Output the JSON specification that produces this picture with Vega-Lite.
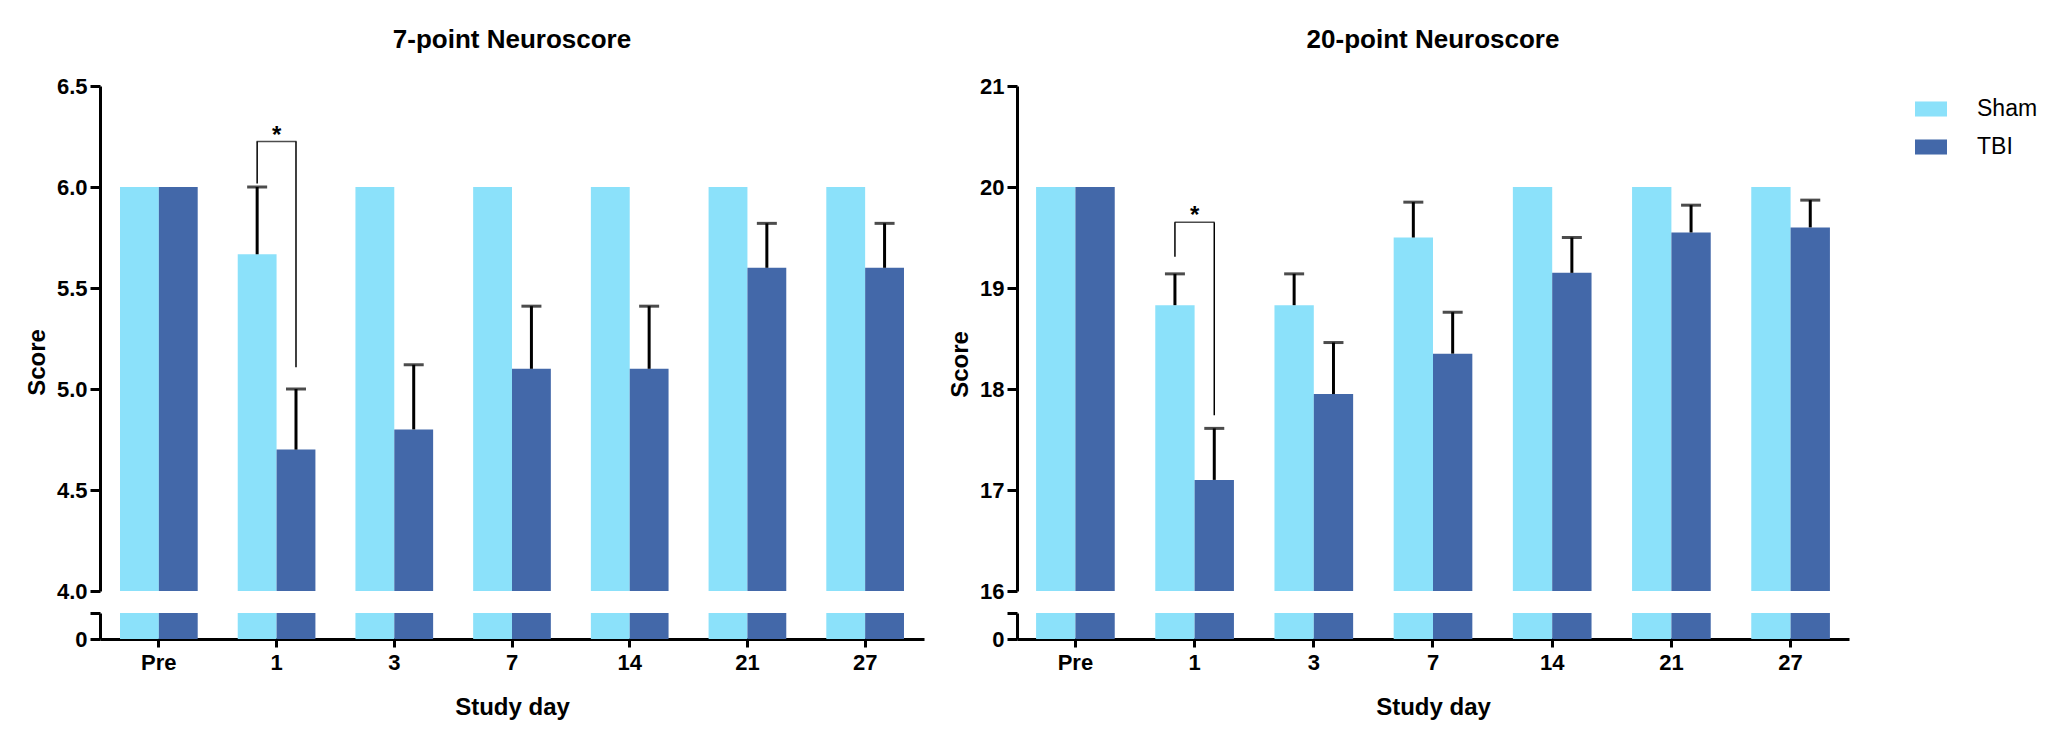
{
  "$schema": "https://vega.github.io/schema/vega-lite/v6.json",
  "background": "white",
  "padding": {"left": 25, "top": 27, "right": 5, "bottom": 5},
  "datasets": {
    "n7": [
      {"day": "Pre", "group": "Sham", "mean": 6.0, "err": null},
      {"day": "Pre", "group": "TBI", "mean": 6.0, "err": null},
      {"day": "1", "group": "Sham", "mean": 5.667, "err": 6.0},
      {"day": "1", "group": "TBI", "mean": 4.7, "err": 5.0},
      {"day": "3", "group": "Sham", "mean": 6.0, "err": null},
      {"day": "3", "group": "TBI", "mean": 4.8, "err": 5.12},
      {"day": "7", "group": "Sham", "mean": 6.0, "err": null},
      {"day": "7", "group": "TBI", "mean": 5.1, "err": 5.41},
      {"day": "14", "group": "Sham", "mean": 6.0, "err": null},
      {"day": "14", "group": "TBI", "mean": 5.1, "err": 5.41},
      {"day": "21", "group": "Sham", "mean": 6.0, "err": null},
      {"day": "21", "group": "TBI", "mean": 5.6, "err": 5.82},
      {"day": "27", "group": "Sham", "mean": 6.0, "err": null},
      {"day": "27", "group": "TBI", "mean": 5.6, "err": 5.82}
    ],
    "n20": [
      {"day": "Pre", "group": "Sham", "mean": 20.0, "err": null},
      {"day": "Pre", "group": "TBI", "mean": 20.0, "err": null},
      {"day": "1", "group": "Sham", "mean": 18.83, "err": 19.14},
      {"day": "1", "group": "TBI", "mean": 17.1, "err": 17.61},
      {"day": "3", "group": "Sham", "mean": 18.83, "err": 19.14},
      {"day": "3", "group": "TBI", "mean": 17.95, "err": 18.46},
      {"day": "7", "group": "Sham", "mean": 19.5, "err": 19.85},
      {"day": "7", "group": "TBI", "mean": 18.35, "err": 18.76},
      {"day": "14", "group": "Sham", "mean": 20.0, "err": null},
      {"day": "14", "group": "TBI", "mean": 19.15, "err": 19.5},
      {"day": "21", "group": "Sham", "mean": 20.0, "err": null},
      {"day": "21", "group": "TBI", "mean": 19.55, "err": 19.82},
      {"day": "27", "group": "Sham", "mean": 20.0, "err": null},
      {"day": "27", "group": "TBI", "mean": 19.6, "err": 19.87}
    ],
    "b7": [
      {"day": "1", "group": "Sham", "top": 6.225, "bottom": 6.017},
      {"day": "1", "group": "TBI", "top": 6.225, "bottom": 5.108}
    ],
    "s7": [{"day": "1", "level": 6.225, "label": "*"}],
    "b20": [
      {"day": "1", "group": "Sham", "top": 19.65, "bottom": 19.31},
      {"day": "1", "group": "TBI", "top": 19.65, "bottom": 17.74}
    ],
    "s20": [{"day": "1", "level": 19.65, "label": "*"}]
  },
  "columns": 2,
  "concat": [
    {
      "width": 824,
      "height": 505,
      "title": {"text": "7-point Neuroscore"},
      "encoding": {
        "x": {"field": "day", "type": "nominal", "sort": ["Pre", "1", "3", "7", "14", "21", "27"], "scale": {"paddingInner": 0.34, "paddingOuter": 0.17}, "axis": null}
      },
      "layer": [
        {
          "data": {"name": "n7"},
          "mark": {"type": "bar"},
          "encoding": {
            "xOffset": {"field": "group", "type": "nominal", "scale": {"paddingInner": 0, "paddingOuter": 0}},
            "y": {"field": "mean", "type": "quantitative", "stack": null,
              "scale": {"domain": [4, 6.5], "zero": false, "nice": false, "clamp": true},
              "axis": {"values": [4, 4.5, 5, 5.5, 6, 6.5], "format": ".1f", "title": "Score", "titleY": 276}},
            "color": {"field": "group", "type": "nominal", "scale": {"domain": ["Sham", "TBI"], "range": ["#8BE1FA", "#4368A9"]},
              "legend": {"title": null, "orient": "none", "legendX": 1815, "legendY": 7}}
          }
        },
        {
          "data": {"name": "n7"},
          "transform": [{"filter": "isValid(datum.err)"}],
          "mark": {"type": "rule", "color": "black", "strokeWidth": 3},
          "encoding": {"xOffset": {"field": "group", "type": "nominal"}, "y": {"field": "mean", "type": "quantitative"}, "y2": {"field": "err"}}
        },
        {
          "data": {"name": "n7"},
          "transform": [{"filter": "isValid(datum.err)"}],
          "mark": {"type": "tick", "color": "black", "size": 20, "thickness": 3, "orient": "horizontal"},
          "encoding": {"xOffset": {"field": "group", "type": "nominal"}, "y": {"field": "err", "type": "quantitative"}}
        },
        {
          "data": {"name": "b7"},
          "mark": {"type": "rule", "color": "black", "strokeWidth": 1.5},
          "encoding": {"xOffset": {"field": "group", "type": "nominal"}, "y": {"field": "top", "type": "quantitative"}, "y2": {"field": "bottom"}}
        },
        {
          "data": {"name": "s7"},
          "mark": {"type": "tick", "color": "black", "size": 40, "thickness": 1.5, "orient": "horizontal"},
          "encoding": {"y": {"field": "level", "type": "quantitative"}}
        },
        {
          "data": {"name": "s7"},
          "mark": {"type": "text", "fontSize": 24, "fontWeight": "bold", "baseline": "alphabetic", "dy": 1, "color": "black"},
          "encoding": {"y": {"field": "level", "type": "quantitative"}, "text": {"field": "label"}}
        }
      ]
    },
    {
      "width": 832,
      "height": 505,
      "title": {"text": "20-point Neuroscore"},
      "encoding": {
        "x": {"field": "day", "type": "nominal", "sort": ["Pre", "1", "3", "7", "14", "21", "27"], "scale": {"paddingInner": 0.34, "paddingOuter": 0.16}, "axis": null}
      },
      "layer": [
        {
          "data": {"name": "n20"},
          "mark": {"type": "bar"},
          "encoding": {
            "xOffset": {"field": "group", "type": "nominal", "scale": {"paddingInner": 0, "paddingOuter": 0}},
            "y": {"field": "mean", "type": "quantitative", "stack": null,
              "scale": {"domain": [16, 21], "zero": false, "nice": false, "clamp": true},
              "axis": {"values": [16, 17, 18, 19, 20, 21], "format": "d", "title": "Score", "titleY": 278}},
            "color": {"field": "group", "type": "nominal"}
          }
        },
        {
          "data": {"name": "n20"},
          "transform": [{"filter": "isValid(datum.err)"}],
          "mark": {"type": "rule", "color": "black", "strokeWidth": 3},
          "encoding": {"xOffset": {"field": "group", "type": "nominal"}, "y": {"field": "mean", "type": "quantitative"}, "y2": {"field": "err"}}
        },
        {
          "data": {"name": "n20"},
          "transform": [{"filter": "isValid(datum.err)"}],
          "mark": {"type": "tick", "color": "black", "size": 20, "thickness": 3, "orient": "horizontal"},
          "encoding": {"xOffset": {"field": "group", "type": "nominal"}, "y": {"field": "err", "type": "quantitative"}}
        },
        {
          "data": {"name": "b20"},
          "mark": {"type": "rule", "color": "black", "strokeWidth": 1.5},
          "encoding": {"xOffset": {"field": "group", "type": "nominal"}, "y": {"field": "top", "type": "quantitative"}, "y2": {"field": "bottom"}}
        },
        {
          "data": {"name": "s20"},
          "mark": {"type": "tick", "color": "black", "size": 40, "thickness": 1.5, "orient": "horizontal"},
          "encoding": {"y": {"field": "level", "type": "quantitative"}}
        },
        {
          "data": {"name": "s20"},
          "mark": {"type": "text", "fontSize": 24, "fontWeight": "bold", "baseline": "alphabetic", "dy": 1, "color": "black"},
          "encoding": {"y": {"field": "level", "type": "quantitative"}, "text": {"field": "label"}}
        }
      ]
    },
    {
      "width": 824,
      "height": 26,
      "data": {"name": "n7"},
      "mark": {"type": "bar"},
      "encoding": {
        "x": {"field": "day", "type": "nominal", "sort": ["Pre", "1", "3", "7", "14", "21", "27"], "scale": {"paddingInner": 0.34, "paddingOuter": 0.17}, "axis": {"title": "Study day", "labelAngle": 0}},
        "xOffset": {"field": "group", "type": "nominal", "scale": {"paddingInner": 0, "paddingOuter": 0}},
        "y": {"field": "mean", "type": "quantitative", "stack": null, "scale": {"domain": [0, 1], "nice": false, "clamp": true},
          "axis": {"values": [0, 1], "labelExpr": "datum.value == 0 ? '0' : ''", "title": null}},
        "color": {"field": "group", "type": "nominal", "legend": null}
      }
    },
    {
      "width": 832,
      "height": 26,
      "data": {"name": "n20"},
      "mark": {"type": "bar"},
      "encoding": {
        "x": {"field": "day", "type": "nominal", "sort": ["Pre", "1", "3", "7", "14", "21", "27"], "scale": {"paddingInner": 0.34, "paddingOuter": 0.16}, "axis": {"title": "Study day", "labelAngle": 0}},
        "xOffset": {"field": "group", "type": "nominal", "scale": {"paddingInner": 0, "paddingOuter": 0}},
        "y": {"field": "mean", "type": "quantitative", "stack": null, "scale": {"domain": [0, 1], "nice": false, "clamp": true},
          "axis": {"values": [0, 1], "labelExpr": "datum.value == 0 ? '0' : ''", "title": null}},
        "color": {"field": "group", "type": "nominal", "legend": null}
      }
    }
  ],
  "spacing": {"row": 22, "column": 93},
  "bounds": "flush",
  "resolve": {"scale": {"y": "independent", "x": "independent", "xOffset": "independent"}},
  "config": {
    "font": "Liberation Sans",
    "view": {"stroke": null},
    "title": {"fontSize": 26, "fontWeight": "bold", "color": "black", "anchor": "middle", "frame": "group", "offset": 22},
    "axis": {
      "grid": false,
      "domainColor": "black",
      "domainWidth": 3,
      "tickColor": "black",
      "tickWidth": 3,
      "tickSize": 10,
      "labelColor": "black",
      "labelFontSize": 22,
      "labelFontWeight": "bold",
      "labelPadding": 3,
      "titleColor": "black",
      "titleFontSize": 24,
      "titleFontWeight": "bold",
      "titlePadding": 7
    },
    "axisX": {"tickSize": 8, "labelPadding": 5, "titlePadding": 22},
    "legend": {
      "symbolType": "M-1,-0.47H1V0.47H-1Z",
      "symbolSize": 1024,
      "symbolStrokeWidth": 0,
      "symbolOpacity": 1,
      "labelFontSize": 23,
      "labelColor": "black",
      "labelOffset": 30,
      "rowPadding": 10,
      "padding": 0
    }
  }
}
